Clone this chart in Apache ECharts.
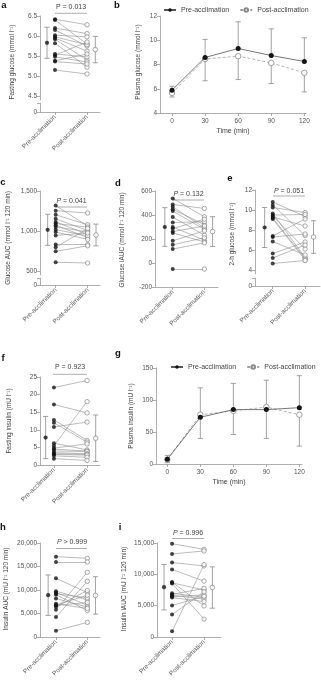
<!DOCTYPE html>
<html><head><meta charset="utf-8">
<script src="https://cdn.jsdelivr.net/npm/echarts@6/dist/echarts.min.js"></script>
<style>html,body{margin:0;padding:0;background:#fff}#c{width:321px;height:685px}</style>
</head><body><div id="c"></div><script>
// ---------- DATA ----------
const groups = ['Pre-acclimation', 'Post-acclimation'];
const timeMin = [0, 30, 60, 90, 120];

// a: fasting glucose (mmol/l)
const aPre  = [6.42, 6.40, 6.20, 6.15, 6.02, 5.98, 5.95, 5.92, 5.82, 5.55, 5.52, 5.48, 5.38, 5.36, 5.15];
const aPost = [6.28, 5.80, 6.06, 5.75, 5.98, 5.78, 5.62, 5.40, 5.22, 5.48, 5.85, 5.35, 5.55, 5.30, 5.05];
const aMean = [5.83, 5.66], aSD = [0.39, 0.33];
const aTicks = [4.5, 5.0, 5.5, 6.0, 6.5];

// b: plasma glucose during OGTT
const bPreMean  = [5.88, 8.58, 9.32, 8.74, 8.25], bPreSD  = [0.32, 1.49, 2.20, 2.20, 1.95];
const bPostMean = [5.65, 8.45, 8.69, 8.13, 7.31], bPostSD = [0.33, 1.79, 1.93, 1.70, 1.57];

// c: glucose AUC
const cPre  = [1318, 1254, 1203, 1152, 1114, 1093, 1072, 1051, 1017, 987, 945, 830, 797, 746, 610];
const cPost = [1062, 1225, 1078, 1005, 958, 1048, 918, 990, 940, 895, 975, 830, 1030, 815, 600];
const cMean = [1015, 950], cSD = [194, 136];
const cTicks = [500, 1000, 1500];

// d: glucose iAUC
const dPre  = [538, 488, 469, 447, 433, 383, 337, 301, 287, 262, 251, 185, 152, 116, -50];
const dPost = [385, 455, 292, 320, 280, 232, 345, 190, 365, 308, 175, 268, 210, 168, -50];
const dMean = [300, 262], dSD = [161, 124];

// e: 2-h glucose
const ePre  = [10.8, 10.5, 10.25, 9.65, 9.5, 9.4, 9.3, 9.2, 9.1, 7.4, 7.3, 6.85, 5.65, 5.2, 4.65];
const ePost = [9.35, 7.45, 9.75, 5.25, 9.55, 6.1, 8.4, 5.15, 5.0, 9.1, 7.6, 5.5, 6.8, 6.5, 4.95];
const eMean = [8.25, 7.3], eSD = [2.0, 1.63];
const eTicks = [4, 6, 8, 10, 12];

// f: fasting insulin
const fPre  = [22, 17.2, 12.8, 12, 10.8, 6.2, 5.5, 4.8, 4.5, 4, 3.5, 3.2, 3, 2.6, 1.8];
const fPost = [24, 14.8, 7, 6.5, 12.2, 4.3, 18, 6, 4, 3.8, 3.2, 3, 2.8, 2.2, 1.3];
const fMean = [7.8, 7.6], fSD = [6.0, 6.6];

// g: plasma insulin during OGTT
const gPreMean  = [7.5, 73, 85, 85, 88], gPreSD  = [6, 46, 41, 46, 50];
const gPostMean = [7, 77, 83, 89, 77],   gPostSD = [5, 37, 37, 49, 49];

// h: insulin AUC
const hPre  = [17100, 15960, 12500, 9750, 9460, 9200, 9000, 8190, 7060, 6780, 6700, 6430, 5790, 4240, 1340];
const hPost = [16740, 15960, 9460, 7910, 6790, 8330, 5650, 6360, 6070, 8900, 7350, 9890, 13770, 11860, 3110];
const hMean = [8900, 8850], hSD = [4300, 3980];

// i: insulin iAUC
const iPre  = [14890, 13250, 11880, 10770, 8760, 8650, 8550, 6970, 6800, 6650, 6440, 6300, 5020, 3590, 900];
const iPost = [13990, 13730, 11350, 8920, 4960, 7500, 2850, 6340, 7760, 6070, 6710, 5650, 6500, 7200, 11560];
const iMean = [7950, 7900], iSD = [3630, 3300];

// ---------- STYLE / LAYOUT ----------
const FONT = '"Liberation Sans", Arial, Helvetica, sans-serif';
const AX = '#9a9a9a', TX = '#555', PAIR = '#8f8f8f', ERR = '#8c8c8c';
const MEANX = [-0.25, 1.26];
const CAP = 2.6;

const grids = [], xAxes = [], yAxes = [], series = [], graphics = [];
function addGrid(r) { grids.push({ left: r[0], top: r[1], width: r[2], height: r[3] }); return grids.length - 1; }
const lineSt = () => ({ color: AX, width: 0.8 });
const comma = v => Math.round(v).toLocaleString('en-US');

function yAxis(g, min, max, o) {
  o = o || {};
  const a = { type: 'value', gridIndex: g, min, max,
    axisLine: { show: true, onZero: false, lineStyle: lineSt() },
    axisTick: { show: true, length: 3, lineStyle: lineSt() },
    axisLabel: { fontSize: 6.5, color: TX, margin: 3, fontFamily: FONT, showMinLabel: true, showMaxLabel: true,
      formatter: o.fmt || (v => String(v)) },
    splitLine: { show: false } };
  if (o.interval) a.interval = o.interval;
  if (o.custom) { a.axisLabel.customValues = o.custom; a.axisTick.customValues = o.tickCustom || o.custom; }
  return a;
}
function xHidden(g, xr) { return { type: 'value', gridIndex: g, min: xr[0], max: xr[1], show: false }; }
function xCat(g, xr) {
  return { type: 'value', gridIndex: g, min: xr[0], max: xr[1],
    axisLine: { show: true, onZero: false, lineStyle: lineSt() },
    axisTick: { show: true, length: 3, customValues: [0, 1], lineStyle: lineSt() },
    axisLabel: { customValues: [0, 1], rotate: 45, fontSize: 6.5, color: TX, margin: 4, fontFamily: FONT,
      formatter: v => groups[Math.round(v)] },
    splitLine: { show: false } };
}
function xTime(g, xr) {
  return { type: 'value', gridIndex: g, min: xr[0], max: xr[1],
    name: 'Time (min)', nameLocation: 'middle', nameGap: 15,
    nameTextStyle: { fontSize: 7, color: '#444', fontFamily: FONT },
    axisLine: { show: true, onZero: false, lineStyle: lineSt() },
    axisTick: { show: true, length: 3, customValues: timeMin, lineStyle: lineSt() },
    axisLabel: { customValues: timeMin, fontSize: 6.5, color: TX, margin: 5, fontFamily: FONT },
    splitLine: { show: false } };
}
function errBar(params, api) {
  const x = api.value(0), a = api.value(1), b = api.value(2);
  const p = api.coord([x, a]), q = api.coord([x, b]);
  const st = { stroke: ERR, lineWidth: 0.8 };
  return { type: 'group', children: [
    { type: 'line', shape: { x1: p[0], y1: p[1], x2: q[0], y2: q[1] }, style: st },
    { type: 'line', shape: { x1: q[0] - CAP, y1: q[1], x2: q[0] + CAP, y2: q[1] }, style: st }
  ] };
}

function paired(c) {
  const g = addGrid(c.rect);
  xAxes.push(c.stub ? xHidden(g, c.xr) : xCat(g, c.xr));
  yAxes.push(yAxis(g, c.yr[0], c.yr[1], c.yo));
  if (c.stub) {
    const s = addGrid(c.stub);
    xAxes.push(xCat(s, c.xr));
    yAxes.push(yAxis(s, 0, 1, { interval: 1, fmt: v => (v === 0 ? '0' : '') }));
  }
  series.push({ type: 'lines', coordinateSystem: 'cartesian2d', xAxisIndex: g, yAxisIndex: g, silent: true, z: 1,
    lineStyle: { color: PAIR, width: 0.6, opacity: 1 },
    data: c.pre.map((v, i) => ({ coords: [[0, v], [1, c.post[i]]] })) });
  const m = c.mean, s = c.sd;
  series.push({ type: 'custom', xAxisIndex: g, yAxisIndex: g, renderItem: errBar, silent: true, clip: false, z: 2,
    encode: { x: 0, y: [1, 2] },
    data: [[MEANX[0], m[0], m[0] + s[0]], [MEANX[0], m[0], m[0] - s[0]],
           [MEANX[1], m[1], m[1] + s[1]], [MEANX[1], m[1], m[1] - s[1]]] });
  series.push({ type: 'scatter', xAxisIndex: g, yAxisIndex: g, symbol: 'circle', symbolSize: 4, z: 3, silent: true,
    itemStyle: { color: '#141414' }, data: c.pre.map(v => [0, v]) });
  series.push({ type: 'scatter', xAxisIndex: g, yAxisIndex: g, symbol: 'circle', symbolSize: 4.4, z: 3, silent: true,
    itemStyle: { color: '#fff', borderColor: '#7a7a7a', borderWidth: 0.8 }, data: c.post.map(v => [1, v]) });
  series.push({ type: 'scatter', xAxisIndex: g, yAxisIndex: g, symbol: 'circle', symbolSize: 4.2, z: 4, silent: true,
    itemStyle: { color: '#141414' }, data: [[MEANX[0], m[0]]] });
  series.push({ type: 'scatter', xAxisIndex: g, yAxisIndex: g, symbol: 'circle', symbolSize: 4.6, z: 4, silent: true,
    itemStyle: { color: '#fff', borderColor: '#7a7a7a', borderWidth: 0.8 }, data: [[MEANX[1], m[1]]] });
}

function timecourse(c) {
  const g = addGrid(c.rect);
  xAxes.push(xTime(g, c.xr));
  yAxes.push(yAxis(g, c.yr[0], c.yr[1], { interval: c.interval }));
  series.push({ type: 'custom', xAxisIndex: g, yAxisIndex: g, renderItem: errBar, silent: true, clip: false, z: 1,
    encode: { x: 0, y: [1, 2] },
    data: timeMin.map((t, i) => [t, c.preMean[i], c.preMean[i] + c.preSD[i]])
      .concat(timeMin.map((t, i) => [t, c.postMean[i], c.postMean[i] - c.postSD[i]])) });
  series.push({ name: 'Post-acclimation', type: 'line', xAxisIndex: g, yAxisIndex: g, z: 3,
    symbol: 'circle', symbolSize: 5.5,
    itemStyle: { color: '#fff', borderColor: '#8a8a8a', borderWidth: 0.8 },
    lineStyle: { color: '#a0a0a0', width: 0.8, type: [3, 2] },
    data: timeMin.map((t, i) => [t, c.postMean[i]]) });
  series.push({ name: 'Pre-acclimation', type: 'line', xAxisIndex: g, yAxisIndex: g, z: 4,
    symbol: 'circle', symbolSize: 5,
    itemStyle: { color: '#141414' },
    lineStyle: { color: '#555', width: 0.8 },
    data: timeMin.map((t, i) => [t, c.preMean[i]]) });
}

// ---------- PANELS ----------
paired({ rect: [40, 16, 60, 84], stub: [40, 103, 60, 9], xr: [-0.469, 1.406], yr: [4.4, 6.5],
  yo: { custom: aTicks, fmt: v => v.toFixed(1) }, pre: aPre, post: aPost, mean: aMean, sd: aSD });
timecourse({ rect: [160, 16, 146, 97], xr: [-10.9, 121.5], yr: [4, 12], interval: 2,
  preMean: bPreMean, preSD: bPreSD, postMean: bPostMean, postSD: bPostSD });
paired({ rect: [40, 191, 60, 84], stub: [40, 278, 60, 7], xr: [-0.49, 1.385], yr: [450, 1500],
  yo: { custom: cTicks, fmt: comma }, pre: cPre, post: cPost, mean: cMean, sd: cSD });
paired({ rect: [155, 191, 63, 96], xr: [-0.56, 1.43], yr: [-200, 600],
  yo: { interval: 200 }, pre: dPre, post: dPost, mean: dMean, sd: dSD });
paired({ rect: [255, 190, 65, 84], stub: [255, 278, 65, 8], xr: [-0.548, 1.46], yr: [3.6, 12],
  yo: { custom: eTicks }, pre: ePre, post: ePost, mean: eMean, sd: eSD });
paired({ rect: [40, 377, 60, 88], xr: [-0.42, 1.39], yr: [0, 25],
  yo: { interval: 5 }, pre: fPre, post: fPost, mean: fMean, sd: fSD });
timecourse({ rect: [156, 368, 146, 96], xr: [-10.3, 122.4], yr: [0, 150], interval: 50,
  preMean: gPreMean, preSD: gPreSD, postMean: gPostMean, postSD: gPostSD });
paired({ rect: [40, 543, 60, 94], xr: [-0.51, 1.405], yr: [0, 20000],
  yo: { interval: 5000, fmt: comma }, pre: hPre, post: hPost, mean: hMean, sd: hSD });
paired({ rect: [157, 543, 64, 94], xr: [-0.47, 1.53], yr: [0, 15000],
  yo: { interval: 5000, fmt: comma }, pre: iPre, post: iPost, mean: iMean, sd: iSD });

// ---------- TEXT ----------
const letters = [['a', 4, 5], ['b', 117, 5], ['c', 3, 182], ['d', 118, 183], ['e', 230, 178],
                 ['f', 3, 358], ['g', 118, 353], ['h', 3, 527], ['i', 120, 527]];
letters.forEach(([t, x, y]) => graphics.push({ type: 'text', x, y, silent: true,
  style: { text: t, fill: '#111', font: 'bold 9.5px ' + FONT, align: 'center', verticalAlign: 'middle' } }));

const yNames = [['Fasting glucose (mmol l⁻¹)', 12, 62], ['Plasma glucose (mmol l⁻¹)', 138, 62],
  ['Glucose AUC (mmol l⁻¹ 120 min)', 8, 238], ['Glucose iAUC (mmol l⁻¹ 120 min)', 122, 240],
  ['2-h glucose (mmol l⁻¹)', 232, 234], ['Fasting insulin (mU l⁻¹)', 9, 421],
  ['Plasma insulin (mU l⁻¹)', 131, 416], ['Insulin AUC (mU l⁻¹ 120 min)', 6, 589],
  ['Insulin iAUC (mU l⁻¹ 120 min)', 124, 589]];
yNames.forEach(([t, x, y]) => graphics.push({ type: 'text', x, y, rotation: Math.PI / 2, silent: true,
  style: { text: t, font: '6.5px ' + FONT, fill: '#444', align: 'center', verticalAlign: 'middle' } }));

const pvals = [['P', ' = 0.013', false, 71, 7, 55, 87, 13.3], ['P', ' = 0.041', true, 71.5, 201, 56, 87, 207],
  ['P', ' = 0.132', true, 188.5, 194, 173, 204, 200], ['P', ' = 0.051', true, 289, 190.7, 273, 305, 196],
  ['P', ' = 0.923', false, 70, 367, 53, 87, 374.3], ['P', ' > 0.999', true, 72, 542.5, 56, 87, 548.5],
  ['P', ' = 0.996', true, 188, 533, 172, 204, 538.5]];
pvals.forEach(([p, rest, it, x, y, x1, x2, ly]) => {
  graphics.push({ type: 'text', x, y, silent: true,
    style: { text: '{p|' + p + '}{r|' + rest + '}', align: 'center', verticalAlign: 'middle',
      rich: { p: { font: (it ? 'italic ' : '') + '7px ' + FONT, fill: '#444' }, r: { font: '7px ' + FONT, fill: '#444' } } } });
  graphics.push({ type: 'line', silent: true, shape: { x1, y1: ly, x2, y2: ly }, style: { stroke: '#999', lineWidth: 0.8 } });
});

const legendBase = { itemWidth: 12, itemHeight: 4.5, itemGap: 10, selectedMode: false,
  textStyle: { fontSize: 7, color: '#444', fontFamily: FONT }, data: ['Pre-acclimation', 'Post-acclimation'] };

const chart = echarts.init(document.getElementById('c'), null, { renderer: 'canvas' });
chart.setOption({
  animation: false, backgroundColor: '#fff',
  textStyle: { fontFamily: FONT },
  grid: grids, xAxis: xAxes, yAxis: yAxes, series,
  legend: [Object.assign({ left: 158, top: 1.5 }, legendBase), Object.assign({ left: 165, top: 358.5 }, legendBase)],
  graphic: graphics
});
</script></body></html>
